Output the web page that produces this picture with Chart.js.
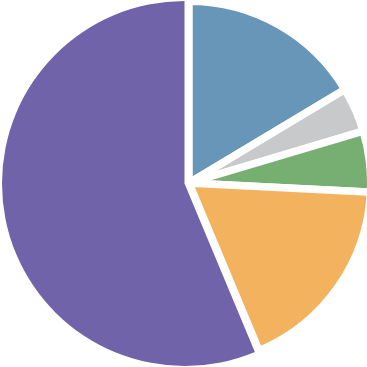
<!DOCTYPE html>
<html>
<head>
<meta charset="utf-8">
<script src="https://cdn.jsdelivr.net/npm/chart.js@4"></script>
<style>
  html, body { margin: 0; padding: 0; background: #ffffff; }
  #wrap { position: relative; width: 367px; height: 367px; }
  #wrap canvas { position: absolute; left: 0; top: 0; }
</style>
</head>
<body>
<div id="wrap">
  <canvas id="bigSlice" width="367" height="367"></canvas>
  <canvas id="smallSlices" width="367" height="367"></canvas>
</div>
<script>
const labels = ["A", "B", "C", "D", "E"];
const values = [16.4, 4.0, 5.4, 17.9, 56.3];
const colors = ["#6896b8", "#c8c9cb", "#77af72", "#f3b35e", "#7063aa"];
const clear = 'rgba(0,0,0,0)';

// the big purple slice sits a bit apart from the rest, so it gets its own layer
var ctx = document.getElementById('bigSlice').getContext('2d');
var chart = new Chart(ctx, {
  type: 'pie',
  data: {
    labels: labels,
    datasets: [{
      data: values,
      backgroundColor: colors.map((c, i) => i === 4 ? c : clear),
      borderWidth: 0
    }]
  },
  options: {
    responsive: false,
    animation: false,
    layout: { padding: { left: 2 } },
    plugins: {
      legend: { display: false },
      tooltip: { enabled: false }
    }
  }
});

var ctx2 = document.getElementById('smallSlices').getContext('2d');
var chart2 = new Chart(ctx2, {
  type: 'pie',
  data: {
    labels: labels,
    datasets: [{
      data: values,
      backgroundColor: colors.map((c, i) => i === 4 ? clear : c),
      borderColor: '#ffffff',
      borderWidth: [7.5, 7.5, 7.5, 7.5, 0],
      radius: 181.75,
      clip: false
    }]
  },
  options: {
    responsive: false,
    animation: false,
    layout: { padding: { left: 11, bottom: 1 } },
    plugins: {
      legend: { display: false },
      tooltip: { enabled: false }
    }
  }
});
</script>
</body>
</html>
